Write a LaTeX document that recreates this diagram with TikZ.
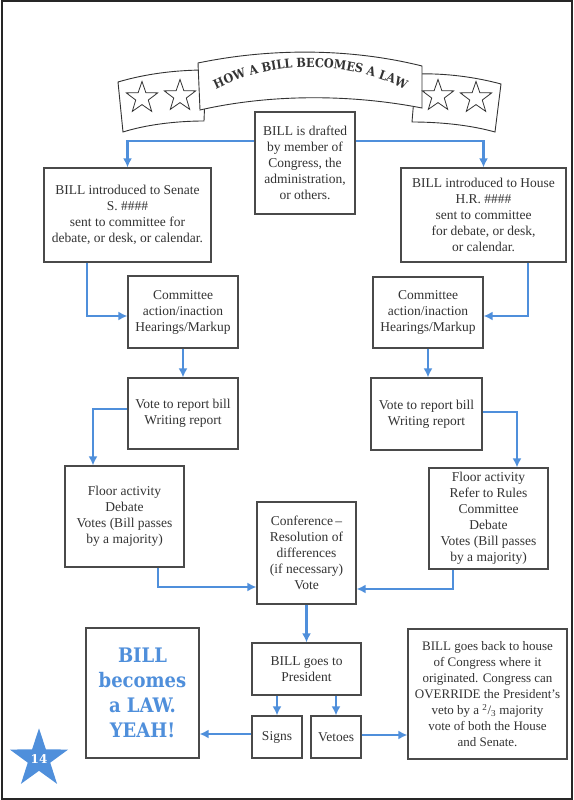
\documentclass[tikz,border=0pt]{standalone}
\usepackage{fontspec}
\setmainfont{Liberation Serif}
\newfontfamily\slab{DejaVu Serif}
\newfontfamily\slabc{DejaVu Serif Condensed}
\usetikzlibrary{arrows.meta,shapes.geometric,decorations.text}
\definecolor{arrblue}{HTML}{4F8FDB}
\definecolor{boxgray}{HTML}{4A4A4A}
\definecolor{txtgray}{HTML}{333333}
\newcommand\ttlfmt{\slabc\bfseries\fontsize{12.5pt}{12.5pt}\selectfont}
\begin{document}
\begin{tikzpicture}[x=1pt,y=-1pt,
  box/.style={draw=boxgray, line width=1.2pt, fill=white, inner sep=0pt, align=center, text=txtgray, font=\fontsize{13.5pt}{16pt}\selectfont},
  arr/.style={draw=arrblue, line width=2.6pt, -{Latex[length=9pt,width=9pt]}},
  ribbon/.style={draw=black!80, line width=0.9pt, fill=white},
  ostar/.style={draw=black!80, line width=0.8pt, shape=star, star points=5, star point ratio=2.5, minimum size=33pt, inner sep=0pt},
]
\useasboundingbox (0,0) rectangle (573,800);
\draw[line width=2pt, black!85] (1.5,1.5) rectangle (571.5,798.5);

% banner
\draw[ribbon] (118,82) .. controls (145,74) and (175,70) .. (206,70) -- (204,121) .. controls (175,121) and (145,125) .. (123,132) -- cycle;
\draw[ribbon] (416,74) .. controls (445,73) and (475,77) .. (501,84) -- (495,132) .. controls (470,125) and (440,122) .. (412,122) -- cycle;
\draw[ribbon] (198,63) .. controls (270,48) and (350,48) .. (422,66) -- (422,108) .. controls (350,94) and (270,94) .. (200,110) -- cycle;
\path[decorate, decoration={text along path, text={|\ttlfmt|HOW A BILL BECOMES A LAW}, text align=center, text color=txtgray}] (205,95) .. controls (270,58) and (350,58) .. (416,95);
\node[ostar] (s1) at (142,98) {};
\node[ostar] (s2) at (180,96) {};
\node[ostar] (s3) at (438,96) {};
\node[ostar] (s4) at (476,98) {};

% boxes
\node[box, minimum width=100pt, minimum height=102pt] (drafted) at (305,163) {BILL is drafted\\by member of\\Congress, the\\administration,\\or others.};
\node[box, minimum width=167pt, minimum height=94pt] (senate) at (127.5,215) {BILL introduced to Senate\\S. \#\#\#\#\\sent to committee for\\debate, or desk, or calendar.};
\node[box, minimum width=165pt, minimum height=94pt] (house) at (483.5,215) {BILL introduced to House\\H.R. \#\#\#\#\\sent to committee\\for debate, or desk,\\or calendar.};
\node[box, minimum width=110pt, minimum height=72pt] (lcom) at (183,312) {Committee\\action/inaction\\Hearings/Markup};
\node[box, minimum width=110pt, minimum height=71pt] (rcom) at (428,312.5) {Committee\\action/inaction\\Hearings/Markup};
\node[box, minimum width=110pt, minimum height=71pt] (lvote) at (183,413.5) {Vote to report bill\\Writing report};
\node[box, minimum width=111pt, minimum height=72pt] (rvote) at (426.5,414) {Vote to report bill\\Writing report};
\node[box, minimum width=119pt, minimum height=101pt] (lfloor) at (124.5,516.5) {Floor activity\\Debate\\Votes (Bill passes\\by a majority)};
\node[box, minimum width=119pt, minimum height=101pt] (rfloor) at (488.5,518.5) {Floor activity\\Refer to Rules\\Committee\\Debate\\Votes (Bill passes\\by a majority)};
\node[box, minimum width=99pt, minimum height=102pt] (conf) at (306.5,553) {Conference\,--\\Resolution of\\differences\\(if necessary)\\Vote};
\node[box, minimum width=109pt, minimum height=52pt] (pres) at (306.5,669) {BILL goes to\\President};
\node[box, minimum width=50pt, minimum height=42pt] (signs) at (277,737) {Signs};
\node[box, minimum width=50pt, minimum height=42pt] (vetoes) at (336,737) {Vetoes};
\node[box, minimum width=159pt, minimum height=130pt, font=\fontsize{13pt}{16pt}\selectfont] (over) at (487.5,694) {BILL goes back to house\\of Congress where it\\originated. Congress can\\OVERRIDE the President’s\\veto by a \textsuperscript{2}/\textsubscript{3} majority\\vote of both the House\\and Senate.};
\node[box, minimum width=113pt, minimum height=130pt, text=arrblue, font=\slabc\bfseries\fontsize{20pt}{25pt}\selectfont] (law) at (142.5,693) {BILL\\becomes\\a LAW.\\YEAH!};
\node[shape=star, star points=5, star point ratio=2.6, fill=arrblue, minimum size=45pt, inner sep=0pt, text=white, font=\slab\bfseries\fontsize{12pt}{12pt}\selectfont] (pg) at (39,759) {14};

% connectors
\draw[arr] ([yshift=22pt]drafted.west) -| (senate.north);
\draw[arr] ([yshift=22pt]drafted.east) -| (house.north);
\draw[arr] ([xshift=-40.5pt]senate.south) |- ([yshift=-4pt]lcom.west);
\draw[arr] ([xshift=44.5pt]house.south) |- ([yshift=-3.5pt]rcom.east);
\draw[arr] (lcom.south) -- (lvote.north);
\draw[arr] (rcom.south) -- (rcom.south |- rvote.north);
\draw[arr] ([yshift=4.5pt]lvote.west) -| ([xshift=-31.5pt]lfloor.north);
\draw[arr] ([yshift=2pt]rvote.east) -| ([xshift=28.5pt]rfloor.north);
\draw[arr] ([xshift=33.5pt]lfloor.south) |- ([yshift=-34pt]conf.west);
\draw[arr] ([xshift=-35.5pt]rfloor.south) |- ([yshift=-36pt]conf.east);
\draw[arr] (conf.south) -- (pres.north);
\draw[arr] (signs.north |- pres.south) -- (signs.north);
\draw[arr] (vetoes.north |- pres.south) -- (vetoes.north);
\draw[arr] ([yshift=3pt]signs.west) -- ([yshift=3pt]signs.west -| law.east);
\draw[arr] ([yshift=2pt]vetoes.east) -- ([yshift=2pt]vetoes.east -| over.west);
\end{tikzpicture}
\end{document}
